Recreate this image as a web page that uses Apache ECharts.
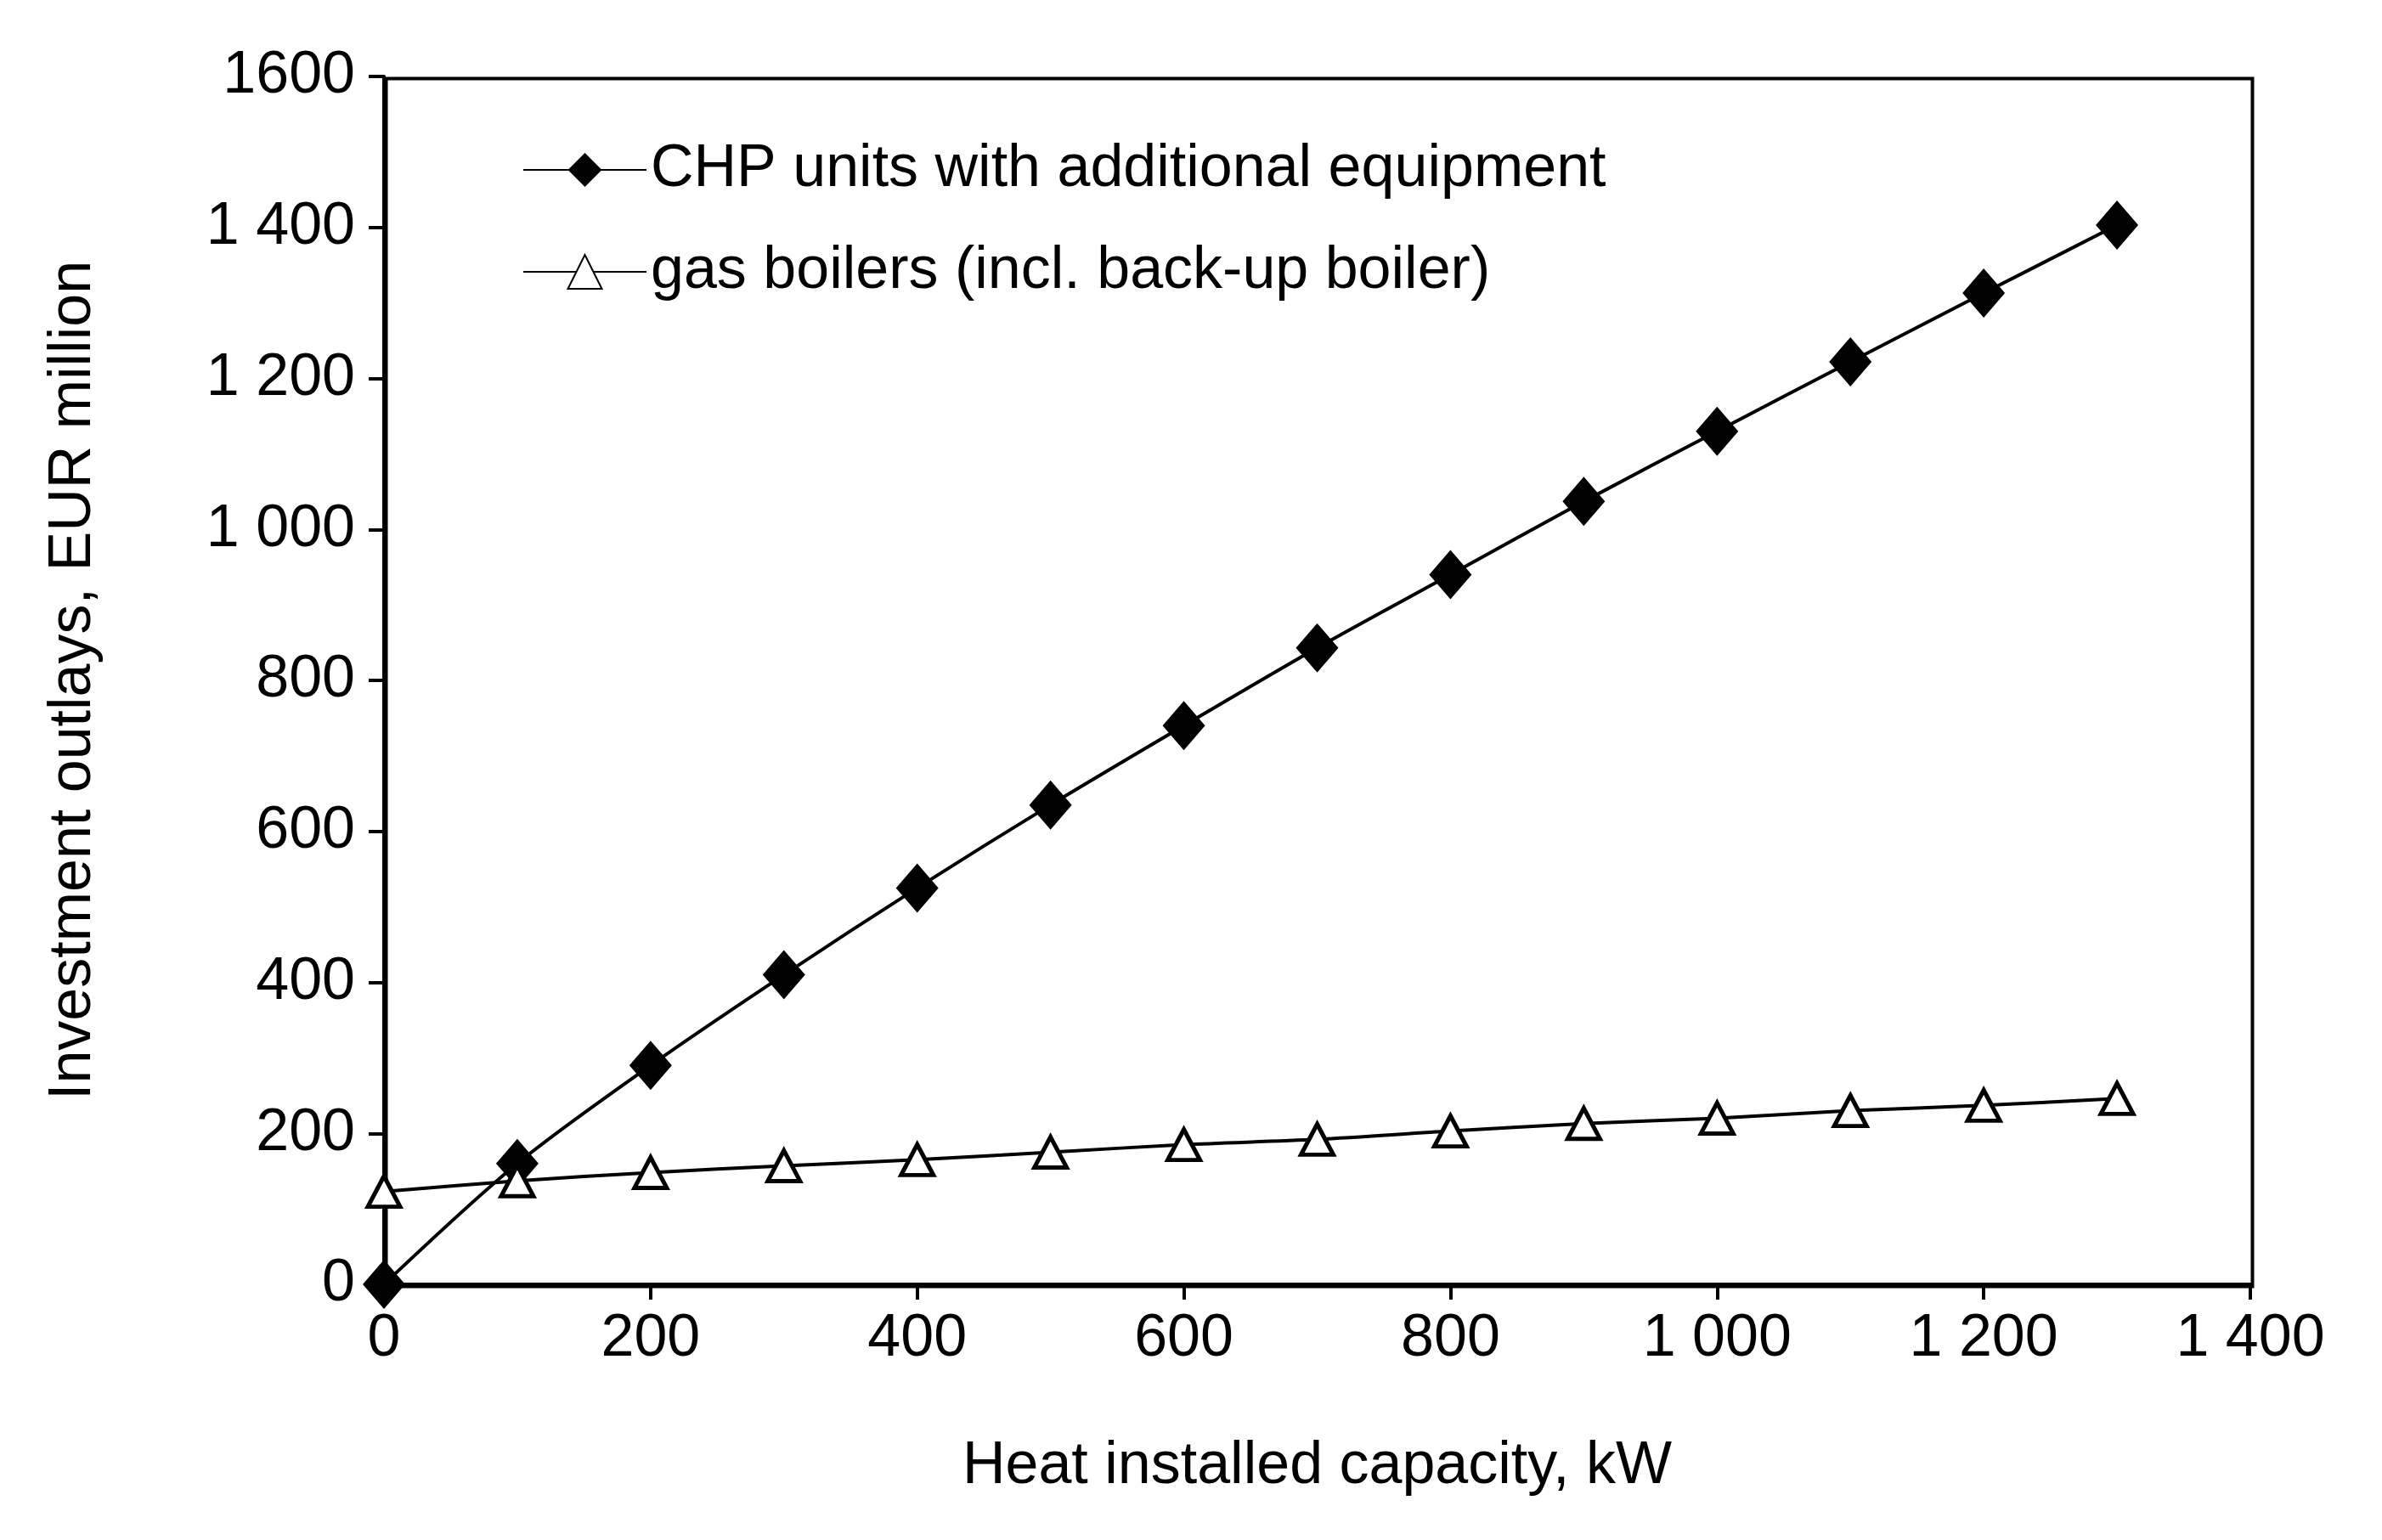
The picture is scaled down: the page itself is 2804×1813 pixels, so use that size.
<!DOCTYPE html>
<html><head><meta charset="utf-8">
<script src="https://cdn.jsdelivr.net/npm/echarts@6/dist/echarts.min.js"></script>
<style>html,body{margin:0;background:#fff}#c{width:2804px;height:1813px}</style>
</head><body><div id="c"></div>
<script>
const capacity = [0,100,200,300,400,500,600,700,800,900,1000,1100,1200,1300];
const chp = [0,160,290,410,525,635,740,843,940,1037,1130,1222,1313,1403];
const gas = [123,137,148,157,165,175,185,192,203,213,220,230,237,246];
const seriesNames = ['CHP units with additional equipment','gas boilers (incl. back-up boiler)'];
const font = 'Liberation Sans, Arial, sans-serif';
const chart = echarts.init(document.getElementById('c'));
const pair = a => capacity.map((x,i)=>[x,a[i]]);
const fmt = v => (v>=1000 && v<1600) ? String(v).replace(/^(\d)/,'$1 ') : String(v);
const L=452,R=2649,T=90,B=1512;
chart.setOption({
  animation:false,
  grid:{left:L,right:2804-R,top:T,bottom:1813-B},
  legend:{left:610,top:160,orient:'vertical',itemGap:50,itemWidth:145,itemHeight:50,
    textStyle:{fontFamily:font,fontSize:70,color:'#000'},data:seriesNames},
  xAxis:{type:'value',min:0,max:1400,interval:200,name:'Heat installed capacity, kW',
    nameLocation:'middle',nameGap:180,nameTextStyle:{fontFamily:font,fontSize:70,color:'#000'},
    axisLine:{lineStyle:{color:'#000',width:4}},axisTick:{length:18,lineStyle:{color:'#000',width:4}},
    axisLabel:{fontFamily:font,fontSize:70,color:'#000',margin:30,formatter:fmt},
    splitLine:{show:false}},
  yAxis:{type:'value',min:0,max:1600,interval:200,name:'Investment outlays, EUR million',
    nameLocation:'middle',nameGap:330,nameTextStyle:{fontFamily:font,fontSize:70,color:'#000'},
    axisLine:{show:true,lineStyle:{color:'#000',width:4}},axisTick:{show:true,length:18,lineStyle:{color:'#000',width:4}},
    axisLabel:{fontFamily:font,fontSize:70,color:'#000',margin:34,formatter:fmt},
    splitLine:{show:false}},
  graphic:[{type:'rect',left:L,top:T,shape:{width:R-L,height:B-T},style:{fill:'none',stroke:'#000',lineWidth:4},silent:true,z:-1}],
  series:[
    {name:seriesNames[0],type:'line',data:pair(chp),smooth:0.3,symbol:'diamond',symbolSize:[50,58],
     itemStyle:{color:'#000'},lineStyle:{color:'#000',width:4}},
    {name:seriesNames[1],type:'line',data:pair(gas),smooth:0.3,symbol:'triangle',symbolSize:[38,36],
     itemStyle:{color:'#fff',borderColor:'#000',borderWidth:5},lineStyle:{color:'#000',width:4}}
  ]
});
</script></body></html>
